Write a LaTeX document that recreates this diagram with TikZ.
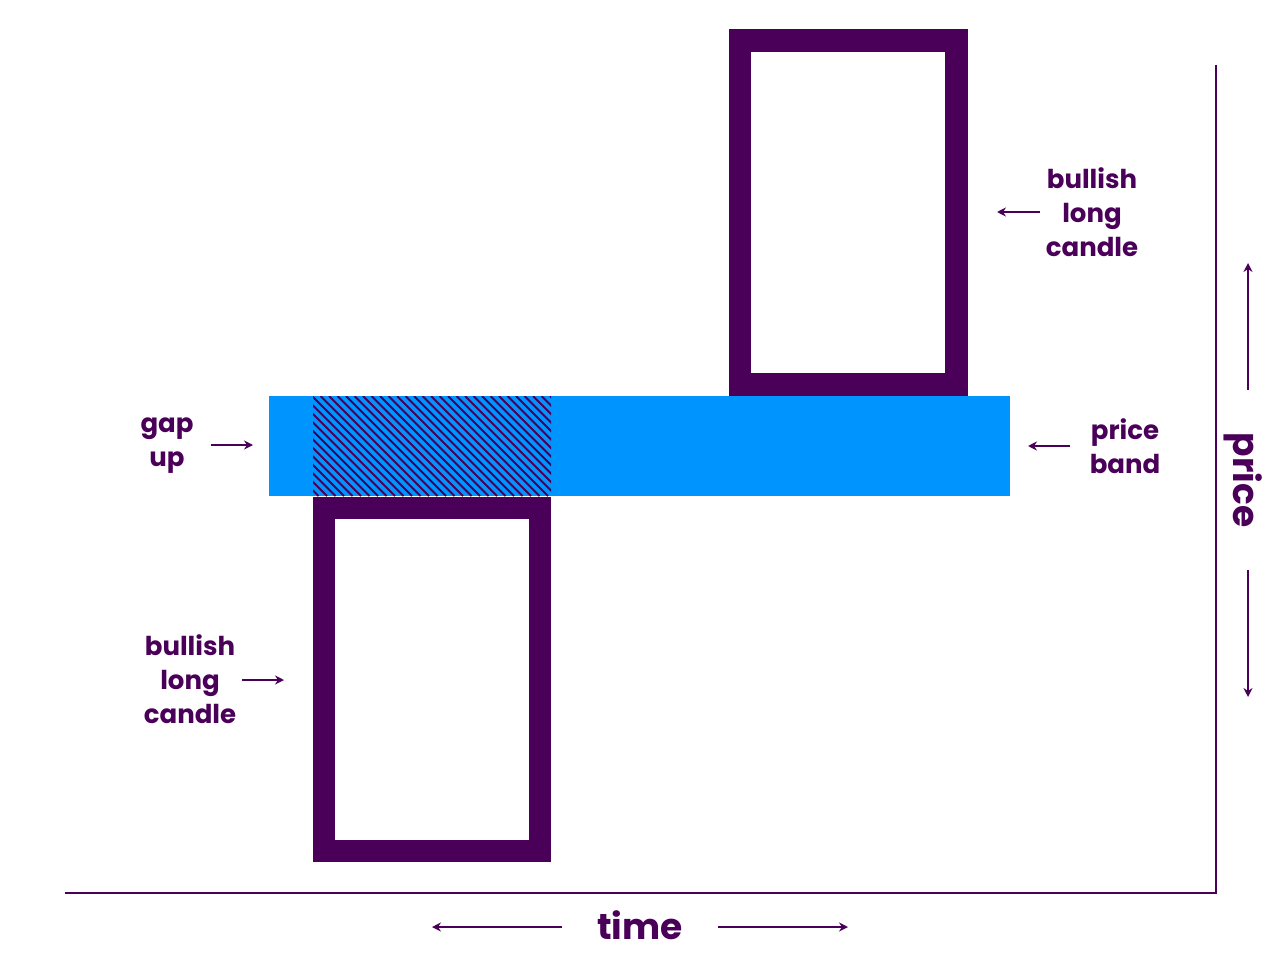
\documentclass[tikz,border=0pt]{standalone}
\usepackage{fontspec}
\setmainfont{Poppins}
\usetikzlibrary{arrows.meta}
\definecolor{pur}{HTML}{4A0058}
\definecolor{blu}{HTML}{0094FF}
\begin{document}
\begin{tikzpicture}[x=1pt,y=-1pt,
  lbl/.style={text=pur,font=\fontsize{26}{34}\selectfont\bfseries,align=center},
  big/.style={text=pur,font=\fontsize{36}{40}\selectfont\bfseries},
  arr/.style={draw=pur,line width=2.2pt,-{Stealth[length=9pt,width=9pt]}},
  candle/.style={draw=pur,line width=22pt,fill=white}]
\useasboundingbox (0,0) rectangle (1280,960);
\fill[blu] (269,396) rectangle (1010,496);
\begin{scope}
\clip (313,396) rectangle (551,496);
\foreach \i in {-120,-111.5,...,260} {\draw[pur,line width=2pt] (313+\i,396) -- (413+\i,496);}
\end{scope}
\node[candle,minimum width=238pt,minimum height=365pt,anchor=north west,line width=0pt,inner sep=0pt] (cu) at (729,30) {};
\draw[candle] (740,41) rectangle (956,384);
\draw[candle] (324,508) rectangle (540,851);
\coordinate (cl) at (313,680);
\draw[pur,line width=2.5pt] (1216,65) coordinate (ya) -- (1216,893) coordinate (o) -- (65,893) coordinate (xa);
\node[lbl] (t1) at (1092,212) {bullish\\long\\candle};
\node[lbl] (t2) at (190,679) {bullish\\long\\candle};
\node[lbl] (t3) at (167,446) {gap\\up};
\node[lbl] (t4) at (1125,446) {price\\band};
\node[big] (tm) at (640,925) {time};
\node[big,rotate=-90] (pr) at (1243,480) {price};
\draw[arr] (211,445) coordinate (a1) -- (253,445) coordinate (b1);
\draw[arr] (242,680) coordinate (a2) -- (284,680) coordinate (b2);
\draw[arr] (1040,212) coordinate (a3) -- (997,212) coordinate (b3);
\draw[arr] (1070,446) coordinate (a4) -- (1028,446) coordinate (b4);
\draw[arr] (562,927) coordinate (a5) -- (432,927) coordinate (b5);
\draw[arr] (718,927) coordinate (a6) -- (848,927) coordinate (b6);
\draw[arr] (1248,390) coordinate (a7) -- (1248,263) coordinate (b7);
\draw[arr] (1248,570) coordinate (a8) -- (1248,697) coordinate (b8);
\end{tikzpicture}
\end{document}
